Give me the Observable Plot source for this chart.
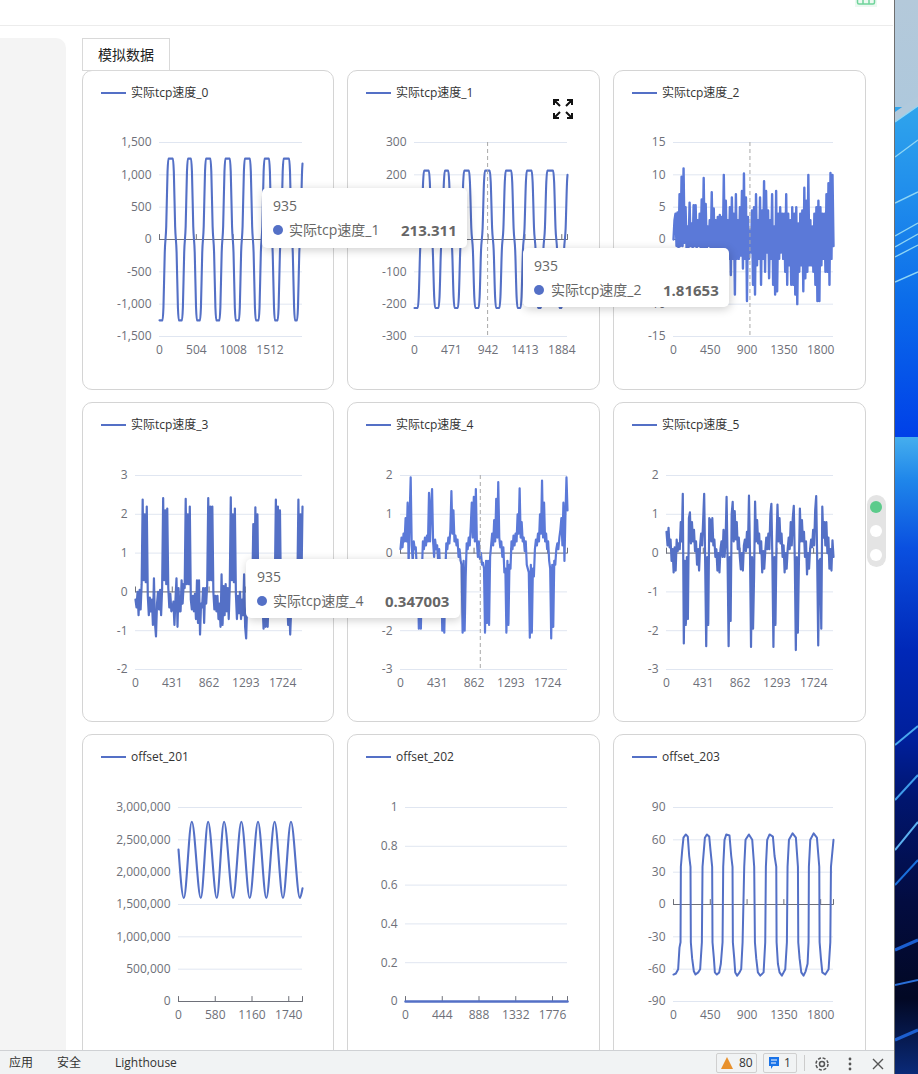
<!DOCTYPE html>
<html lang="zh"><head><meta charset="utf-8">
<script src="https://cdn.jsdelivr.net/npm/d3@7"></script>
<script src="https://cdn.jsdelivr.net/npm/@observablehq/plot@0.6"></script>
<style>
html,body{margin:0;padding:0;width:918px;height:1074px;overflow:hidden;background:#fff;font-family:"Open Sans","Noto Sans CJK SC",sans-serif}
.abs{position:absolute}
.card{position:absolute;box-sizing:border-box;border:1px solid #d4d4d4;border-radius:10px;background:#fff;overflow:hidden}
.legend{position:absolute;font-size:12px;color:#333;line-height:16px;white-space:nowrap}
.swatch{position:absolute;width:25px;height:2px;background:#5470c6}
.tip{position:absolute;background:#fff;border-radius:5px;box-shadow:1px 2px 10px rgba(0,0,0,.2);color:#666;font-size:14px;line-height:20px;z-index:5}
.tip b{position:absolute;font-weight:700;font-size:15px;white-space:nowrap}
.tip span{position:absolute;white-space:nowrap}
.tip i{position:absolute;width:10px;height:10px;border-radius:50%;background:#5470c6}
svg.plot{position:absolute;left:0;top:0;overflow:visible}
#bar{position:absolute;left:0;top:1050px;width:894px;height:24px;background:#f1f3f4;border-top:1px solid #cfd1d4;box-sizing:border-box;font-size:12px;color:#333;z-index:6}
#bar span{position:absolute;top:4px;line-height:16px}
</style></head><body>
<div id="root"></div>
<script>
const N = 1957;
const cursorIndex = 935;
const seriesNames = ["实际tcp速度_0","实际tcp速度_1","实际tcp速度_2","实际tcp速度_3","实际tcp速度_4","实际tcp速度_5","offset_201","offset_202","offset_203"];

const trapIndex = [0,
42,54,72,92,110,122, 184,196,214,234,252,264, 308,320,338,358,376,388, 432,444,462,482,500,512,
555,567,585,605,623,635, 697,709,727,747,765,777, 821,833,851,871,889,901, 963,975,993,1013,1031,1043,
1087,1099,1117,1137,1155,1167, 1238,1250,1268,1288,1306,1318, 1357,1369,1387,1407,1425,1437,
1499,1511,1529,1549,1567,1579, 1618,1630,1648,1668,1686,1698, 1774,1786,1804,1824,1842,1854,
1883,1895,1913,1933,1951,1957];
const speed0 = [-1250,
-1250,-1050,-200,200,1050,1250, 1250,1050,200,-200,-1050,-1250, -1250,-1050,-200,200,1050,1250, 1250,1050,200,-200,-1050,-1250,
-1250,-1050,-200,200,1050,1250, 1250,1050,200,-200,-1050,-1250, -1250,-1050,-200,200,1050,1250, 1250,1050,200,-200,-1050,-1250,
-1250,-1050,-200,200,1050,1250, 1250,1050,200,-200,-1050,-1250, -1250,-1050,-200,200,1050,1250,
1250,1050,200,-200,-1050,-1250, -1250,-1050,-200,200,1050,1250, 1250,1050,200,-200,-1050,-1250,
-1250,-1050,-200,200,1050,1175];
const speed1 = [-212,
-212,-178,-34,34,178,213, 213,178,34,-34,-178,-212, -212,-178,-34,34,178,213, 213,178,34,-34,-178,-212,
-212,-178,-34,34,178,213, 213,178,34,-34,-178,-212, -212,-178,-34,34,178,213, 213,178,34,-34,-178,-212,
-212,-178,-34,34,178,213, 213,178,34,-34,-178,-212, -212,-178,-34,34,178,213,
213,178,34,-34,-178,-212, -212,-178,-34,34,178,213, 213,178,34,-34,-178,-212,
-212,-178,-34,34,178,200];
const speed2 = [0,3,4,-1,4.2,-1.5,7,-1,9.7,-1,11,-0.5,5,-1.5,2,-1.2,5.7,-1,2.5,-1.5,5.3,-1,5.3,-1.6,3,-1,4,-1.5,6.2,-1.4,9.5,-2,5.5,-1.5,2,-1,3,-2,7.3,-1.5,4.8,-2,3,-1.5,3.5,-2.5,3.8,-2,3.5,-1.5,10,-2.5,6,-2,3,-3,5,-5.5,6.5,-3,4,-8.5,7,-3,3,-3,5,-2.5,7.5,-4.5,10.2,-3,6.5,-9.5,3.5,-3,1.5,-2,4.5,-7,5,-8.5,7,-4,3,-3,6.5,-7,4.5,-3,9,-5,7.5,-2,4.5,-6,3,-3,7,-7,2,-8.5,7.5,-8,4,-3,5,-2,4,-3,4,-5,7,-7,4,-4,3,-7,5,-7,4,-8.5,5,-10,2.5,-5,4,-4,4.5,-8,8,-6,6,-5,10,-4,3,-4,2,-5,4,-7,5,-9.5,6,-9.5,5,-4,4,-3,4,-5,7,-5,8.7,-7,10.3,-3,10,-1];
const speed3 = [-0.2,-0.4,0,-0.6,0.05,-0.45,0.2,2.38,0.3,2,0.25,2.2,-0.1,-0.6,-0.15,-0.5,-0.2,-0.85,0.35,-0.8,-1.15,-0.3,
0,-0.45,0.05,-0.6,0.1,2.42,0.3,2.1,0.2,2.15,0.1,-0.4,-0.05,-0.5,-0.45,-0.25,-0.85,-0.2,0.35,-0.9,0.1,-0.5,
-0.5,0.3,-0.3,0.2,0.1,2.4,0.2,2,0.2,2.2,-0.2,-0.45,-0.1,-0.5,-0.05,-0.7,0.3,-0.8,0.3,-1.1,-0.3,-0.4,
0.1,-0.8,0.1,-0.3,0.2,2.42,0.3,2.2,0.3,2.2,0,-0.45,-0.1,-0.5,-0.1,-0.7,-0.3,-0.9,0.45,-0.85,0.15,-0.6,
0.2,-0.5,0.1,-0.7,0.15,2.44,0.3,2,0.25,2.15,-0.05,-0.7,-0.1,-0.55,0,-0.7,-0.2,-0.6,0.45,-0.9,-1.2,-0.3,
-0.3,-0.5,0,-0.4,0.1,1.75,0.2,2.18,0.2,2,-0.3,-0.5,-0.2,-0.6,-0.3,-0.95,-0.2,-0.9,-0.3,-0.9,0,
-0.4,0,-0.5,0.1,0.2,0.2,2.38,0.3,2.2,0.3,2.1,-0.2,-0.5,-0.1,-0.6,-0.2,-0.6,-0.1,-0.85,-0.3,-1.1,-0.4,-0.2,
0,-0.4,0.1,-0.5,0.2,2.38,0.3,2,0.3,2.2];
const speed4 = [0.1,0.4,0.15,0.5,0.3,0.9,0.3,1.3,-0.3,1,1.95,0.2,-0.2,0.3,0.1,0.15,-0.4,-0.3,-1.95,-0.2,-1.95,-0.5,
0.3,0.1,0.4,0.2,0.45,0.3,1.55,0.3,1.2,1.65,0.3,-0.1,0.35,0.1,0.2,-0.2,0.1,-0.5,-0.3,-2,-0.2,-2.05,-0.5,
0.25,0.1,0.4,0.25,0.6,1.6,0.5,1.1,0.3,0.45,0.2,0.35,-0.1,0.1,-0.2,-0.3,-2.05,-0.2,-2,-0.6,
0.25,0.1,0.4,0.2,0.7,1.3,0.4,1.45,0.3,1.65,0.3,-0.1,0.3,-0.15,0,-0.3,-0.25,-0.4,-2.05,-0.2,-1.8,-0.2,-1.85,-0.1,
0.2,0.5,0.2,0.85,0.3,1.4,0.4,1.83,0.4,0.15,0.3,-0.1,0.15,-0.5,-0.4,-2.05,-0.2,-1.85,-0.3,-0.4,
0.3,0.1,0.45,0.2,0.5,0.3,1,0.5,1.67,0.4,0.8,0.3,0.4,0.05,0.3,-0.3,-0.4,-0.5,-2.18,-0.3,-2.05,-0.4,-0.6,
0.1,0.35,0.2,0.5,0.3,1,0.5,1.87,0.4,1.3,0.3,0.5,0.1,0.3,-0.2,-0.4,-2.2,-0.3,-1.9,-0.2,-0.3,
0.1,0.25,0.1,0.4,0.6,0.9,0.2,1.3,-0.2,1,1.95,1.1];
const speed5 = [0.55,0.2,0.65,0.15,0.35,-0.2,0.1,-0.5,0.15,-0.45,0.35,0.05,0.25,0.1,0.8,0.3,1.53,-2.33,-0.2,-1.85,-0.1,-1.7,0.9,1.05,0.25,0.8,0.3,0.6,0.05,0.3,-0.3,0.1,-0.45,0.2,0.5,0.2,0.85,1.53,-0.3,-2.4,-0.1,-1.85,0.9,0.85,0.3,0.9,0.2,0.35,-0.1,0.1,-0.45,0,-0.5,0.1,0.3,-0.1,0.6,-0.1,0.3,1.45,-0.2,-2.4,-0.1,-1.75,1,1.32,0.3,1.08,0.35,0.8,0.1,0.4,-0.1,-0.42,0,-0.45,0.2,0.35,0.05,0.55,0.15,1.48,0,-2.42,-0.1,-1.95,-0.6,1.33,0.3,0.85,0.25,0.5,0,0.3,-0.5,0.05,-0.4,0.05,0.4,0.1,0.5,0.1,1,1.27,-0.2,-2.42,-0.1,-1.85,0.2,1.25,0.3,0.9,0.25,0.5,-0.1,0.2,-0.5,0,-0.4,0.1,0.4,0.1,0.8,0.2,0.9,1.22,-0.2,-2.5,-0.1,-2.05,-0.3,1.15,0.3,0.85,0.3,0.55,-0.1,0.3,-0.55,0,-0.4,0.1,0.35,0.15,0.6,0.2,1.1,1.47,-0.2,-2.38,-0.2,-0.15,-1.95,1.2,0.4,0.8,0.2,0.8,0,0.4,-0.4,0.1,-0.45,0.33,-0.1];
const offset201Index = [0,84,210,352,467,604,719,861,992,1124,1255,1386,1517,1649,1775,1916,1957];
const offset201 = [2350000,1600000,2780000,1600000,2780000,1600000,2780000,1600000,2780000,1600000,2780000,1600000,2780000,1600000,2780000,1600000,1750000];
const offset202Index = [0,1957];
const offset202 = [0,0];
const offset203Index = [0,29,57,73,86,90,106,122,151,175,192,208,212,228,249,269,302,326,347,355,371,384,408,437,453,473,477,494,506,530,559,579,600,608,624,645,685,706,722,726,743,755,779,808,828,845,865,881,922,963,987,996,1012,1032,1061,1102,1122,1130,1146,1175,1216,1236,1257,1261,1277,1297,1326,1367,1387,1395,1412,1457,1497,1522,1526,1542,1563,1591,1616,1640,1652,1656,1673,1714,1754,1783,1787,1803,1820,1856,1897,1918,1926,1957];
const offset203 = [-65,-64,-60,-40,-35,35,50,62,65,63,45,35,-35,-50,-62,-65,-63,-60,-35,35,50,62,65,63,50,35,-35,-50,-63,-65,-63,-55,-35,35,60,65,64,45,35,-35,-50,-63,-66,-63,-60,-35,35,60,65,60,35,-35,-50,-63,-66,-63,-35,35,60,65,63,45,35,-35,-55,-63,-66,-60,-35,35,60,66,62,35,-35,-50,-63,-66,-62,-55,-35,35,60,66,62,35,-35,-50,-63,-65,-60,-35,35,60];

const yTicks0 = [-1500,-1000,-500,0,500,1000,1500];
const yTicks1 = [-300,-200,-100,0,100,200,300];
const yTicks2 = [-15,-10,-5,0,5,10,15];
const yTicks3 = [-2,-1,0,1,2,3];
const yTicks4 = [-3,-2,-1,0,1,2];
const yTicks6 = [0,500000,1000000,1500000,2000000,2500000,3000000];
const yTicks7 = [0,0.2,0.4,0.6,0.8,1];
const yTicks8 = [-90,-60,-30,0,30,60,90];
const xTicks0 = [0,504,1008,1512];
const xTicks1 = [0,471,942,1413,1884];
const xTicks2 = [0,450,900,1350,1800];
const xTicks3 = [0,431,862,1293,1724];
const xTicks6 = [0,580,1160,1740];
const xTicks7 = [0,444,888,1332,1776];

const uniform = a => a.map((y,i)=>({x:i*N/(a.length-1),y}));
const paired = (xs,ys) => xs.map((x,i)=>({x,y:ys[i]}));
const BLUE = "#5470c6", BRIGHT = "#5b79d8", AXIS = "#6E7079", GRID = "#E0E6F1";
const numFmt = d => d.toLocaleString("en-US");
const tickShape = {draw(c,l){c.moveTo(0,0);c.lineTo(0,l);}};

const charts = [
 {card:[82,70,252,320],  plot:[159,302], top:142, data:paired(trapIndex,speed0), y:yTicks0, x:xTicks0, curve:"monotone-x", w:2.1},
 {card:[347,70,253,320], plot:[414,567], top:142, data:paired(trapIndex,speed1), y:yTicks1, x:xTicks1, cursor:true, curve:"monotone-x", w:2.1},
 {card:[613,70,253,320], plot:[673,833], top:142, data:uniform(speed2), y:yTicks2, x:xTicks2, cursor:true, w:2.4, color:BRIGHT},
 {card:[82,402,252,320], plot:[135,302], top:475, data:uniform(speed3), y:yTicks3, x:xTicks3, w:2.2},
 {card:[347,402,253,320],plot:[400,567], top:475, data:uniform(speed4), y:yTicks4, x:xTicks3, cursor:true, w:2.2, color:BRIGHT},
 {card:[613,402,253,320],plot:[666,833], top:475, data:uniform(speed5), y:yTicks4, x:xTicks3, w:2.2},
 {card:[82,734,252,330], plot:[178,302], top:807, data:paired(offset201Index,offset201), y:yTicks6, x:xTicks6, curve:"monotone-x", w:2.1},
 {card:[347,734,253,330],plot:[405,567], top:807, data:paired(offset202Index,offset202), y:yTicks7, x:xTicks7, w:2.5},
 {card:[613,734,253,330],plot:[673,833], top:807, data:paired(offset203Index,offset203), y:yTicks8, x:xTicks2, w:2}
];

const root = document.getElementById("root");
function add(html){const t=document.createElement("template");t.innerHTML=html.trim();const e=t.content.firstChild;root.appendChild(e);return e;}

charts.forEach((c,i)=>{
  const [cx,cy,cw,ch]=c.card, [pl,pr]=c.plot;
  const mt = c.top-cy, h = 194, mb = 40;
  const ml = pl-cx, mr = cx+252-pr;
  const card = add(`<div class="card" style="left:${cx}px;top:${cy}px;width:${cw}px;height:${ch}px"></div>`);
  const yDom = [c.y[0], c.y[c.y.length-1]];
  const marks = [
    Plot.gridY(c.y,{stroke:GRID,strokeOpacity:1}),
    Plot.ruleY([0],{stroke:AXIS,strokeWidth:1}),
    Plot.vector([...c.x,N],{x:d=>d,y:()=>0,length:5,anchor:"start",rotate:180,stroke:AXIS,strokeWidth:1,shape:tickShape}),
    Plot.axisY(c.y,{tickSize:0,tickPadding:8,tickFormat:numFmt,color:AXIS,label:null,marginLeft:ml}),
    Plot.axisX(c.x,{anchor:"bottom",tickSize:0,tickPadding:9,tickFormat:d=>String(d),color:AXIS,label:null}),
    Plot.line(c.data,{x:"x",y:"y",stroke:c.color||BLUE,strokeWidth:c.w,curve:c.curve||"linear",strokeLinejoin:"round"})
  ];
  if(c.cursor) marks.push(Plot.ruleX([cursorIndex],{stroke:"#a8a8a8",strokeDasharray:"4 3",strokeWidth:1}));
  const svg = Plot.plot({
    width:252,height:mt+h+mb,marginTop:mt,marginBottom:mb,marginLeft:ml,marginRight:mr,
    x:{domain:[0,N]},y:{domain:yDom},
    style:{fontSize:"12px",fontFamily:'"Open Sans","Noto Sans CJK SC",sans-serif',background:"transparent",maxWidth:"none"},
    marks
  });
  svg.classList.add("plot");
  svg.style.left="-1px";svg.style.top="-1px";
  card.appendChild(svg);
  const sw = 18, ly = 21;
  card.insertAdjacentHTML("beforeend",`<div class="swatch" style="left:${sw}px;top:${ly}px"></div><div class="legend" style="left:${sw+30}px;top:${ly-7}px">${seriesNames[i]}</div>`);
});

const tips = [
 {l:262,t:188,w:205,h:60,nameX:27,valX:139,name:seriesNames[1],val:"213.311"},
 {l:523,t:248,w:206,h:59,nameX:28,valX:140,name:seriesNames[2],val:"1.81653"},
 {l:246,t:559,w:214,h:59,nameX:27,valX:139,name:seriesNames[4],val:"0.347003"}
];
tips.forEach(t=>add(`<div class="tip" style="left:${t.l}px;top:${t.t}px;width:${t.w}px;height:${t.h}px">
  <span style="left:11px;top:8px">${cursorIndex}</span><i style="left:11px;top:37px"></i>
  <span style="left:${t.nameX}px;top:32px">${t.name}</span><b style="left:${t.valX}px;top:32px">${t.val}</b></div>`));

add(`<div class="abs" style="left:0;top:25px;width:893px;height:1px;background:#ececec"></div>`);
add(`<div class="abs" style="left:0;top:38px;width:66px;height:1012px;background:#f4f4f4;border-top-right-radius:10px"></div>`);
add(`<div class="abs" style="left:82px;top:38px;width:88px;height:33px;box-sizing:border-box;border:1px solid #d9d9d9;font-size:14px;line-height:31px;text-align:center;color:#222;background:#fff">模拟数据</div>`);
add(`<svg class="abs" style="left:552px;top:98px" width="22" height="22" viewBox="0 0 22 22" fill="none" stroke="#111" stroke-width="2"><path d="M2 7V2H7M2 2L8 8M15 2H20V7M20 2L14 8M2 15V20H7M2 20L8 14M20 15V20H15M20 20L14 14"/></svg>`);
add(`<svg class="abs" style="left:852px;top:0" width="28" height="8"><rect x="3" y="-3" width="22" height="10" fill="#ecf9f1"/><path d="M5.5 -3V2.5a1.5 1.5 0 0 0 1.5 1.5H21a1.5 1.5 0 0 0 1.5 -1.5V-3M11 -1V4M17 -1V4" fill="none" stroke="#6fd49b" stroke-width="1.5"/></svg>`);
add(`<div class="abs" style="left:867px;top:495px;width:19px;height:72px;border-radius:10px;background:#e4e4e4"></div>`);
[[507,"#5ccb8b"],[531,"#fff"],[555,"#fff"]].forEach(([y,f])=>add(`<div class="abs" style="left:870px;top:${y-6}px;width:12px;height:12px;border-radius:50%;background:${f}"></div>`));
add(`<div class="abs" style="left:894px;top:0;width:1px;height:1074px;background:#6f6f6f"></div>`);
add(`<svg class="abs" style="left:895px;top:0" width="23" height="1074" viewBox="0 0 23 1074">
<defs><linearGradient id="wp" x1="0" x2="0" y1="0" y2="1074" gradientUnits="userSpaceOnUse">
<stop offset="0" stop-color="#b4c9da"/><stop offset="0.1" stop-color="#aec8dc"/><stop offset="0.1" stop-color="#2fa4ec"/>
<stop offset="0.186" stop-color="#1f8cec"/><stop offset="0.28" stop-color="#0b6cea"/><stop offset="0.407" stop-color="#0040e8"/>
<stop offset="0.407" stop-color="#45aeee"/><stop offset="0.447" stop-color="#1f86ea"/><stop offset="0.51" stop-color="#0a50e0"/>
<stop offset="0.605" stop-color="#0028b8"/><stop offset="0.69" stop-color="#001f9a"/><stop offset="0.745" stop-color="#00156e"/>
<stop offset="0.84" stop-color="#030c40"/><stop offset="0.93" stop-color="#020824"/><stop offset="1" stop-color="#0a2a78"/></linearGradient></defs>
<rect width="23" height="1074" fill="url(#wp)"/>
<path d="M0 122L23 106V96L0 112Z" fill="#b0c9dc"/>
<path d="M0 122L23 106M0 157L23 140M0 203L23 192M0 236L23 223M0 247L23 234M0 257L23 245M0 282L23 272" stroke="#8fd6f5" stroke-width="1.4" fill="none"/>
<path d="M0 745L23 726" stroke="#4aa8ee" stroke-width="2"/><path d="M0 800L23 775" stroke="#3f9cea" stroke-width="2"/>
<path d="M0 850L23 822" stroke="#5bb0ef" stroke-width="2"/><path d="M0 885L23 860" stroke="#1a6fdc" stroke-width="2"/>
<path d="M0 950L23 940" stroke="#1b5ed0" stroke-width="3"/><path d="M0 985L23 980" stroke="#2a6fd8" stroke-width="2"/><path d="M0 1040L23 1030" stroke="#1d5fd0" stroke-width="3"/>
</svg>`);
add(`<div id="bar"><span style="left:9px">应用</span><span style="left:57px">安全</span><span style="left:115px">Lighthouse</span>
<div class="abs" style="left:716px;top:2px;width:41px;height:20px;box-sizing:border-box;border:1px solid #d0d0d0;border-radius:2px"></div>
<div class="abs" style="left:763px;top:2px;width:34px;height:20px;box-sizing:border-box;border:1px solid #d0d0d0;border-radius:2px"></div>
<svg class="abs" style="left:720px;top:5px" width="16" height="14"><path d="M7 1L13 13H1Z" fill="#e8912d"/></svg><span style="left:739px">80</span>
<svg class="abs" style="left:768px;top:5px" width="12" height="14"><path d="M1 1H11V10H5L3 13V10H1Z" fill="#1a73e8"/><path d="M3 4H9M3 7H8" stroke="#fff"/></svg><span style="left:784px">1</span>
<div class="abs" style="left:804px;top:4px;width:1px;height:16px;background:#ccc"></div>
<svg class="abs" style="left:814px;top:5px" width="16" height="16" fill="none" stroke="#555" stroke-width="1.5"><circle cx="8" cy="8" r="2.5"/><circle cx="8" cy="8" r="6" stroke-dasharray="3 1.7"/></svg>
<svg class="abs" style="left:846px;top:5px" width="8" height="16" fill="#555"><circle cx="4" cy="3" r="1.4"/><circle cx="4" cy="8" r="1.4"/><circle cx="4" cy="13" r="1.4"/></svg>
<svg class="abs" style="left:872px;top:7px" width="12" height="12" stroke="#555" stroke-width="1.4"><path d="M1 1L11 11M11 1L1 11"/></svg></div>`);
</script></body></html>
